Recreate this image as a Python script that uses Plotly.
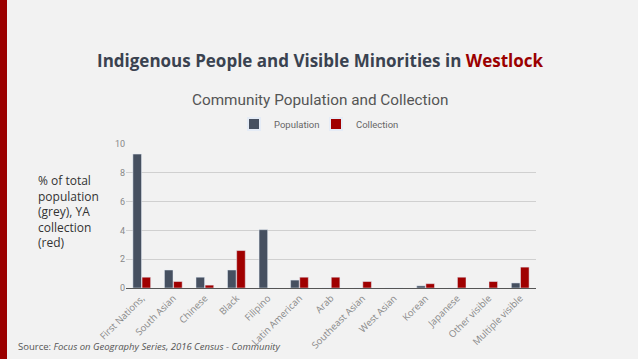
import plotly.graph_objects as go

categories = ["First Nations,", "South Asian", "Chinese", "Black", "Filipino",
              "Latin American", "Arab", "Southeast Asian", "West Asian", "Korean",
              "Japanese", "Other visible", "Multiple visible"]
population = [9.3, 1.25, 0.75, 1.25, 4.05, 0.55, 0, 0, 0, 0.15, 0, 0, 0.35]
collection = [0.75, 0.45, 0.2, 2.6, 0, 0.75, 0.75, 0.45, 0, 0.3, 0.75, 0.45, 1.45]
y_ticks = [0, 2, 4, 6, 8, 10]

GREY = "#465060"
RED = "#a00000"
BG = "#f2f2f2"

fig = go.Figure()
fig.add_trace(go.Bar(x=categories, y=population, name="Population", marker_color=GREY, legend="legend"))
fig.add_trace(go.Bar(x=categories, y=collection, name="Collection", marker_color=RED, legend="legend2"))

L, R, T, B = 126, 102, 144, 71
W, H = 638, 359
pw = W - L - R
ph = H - T - B

def px_x(x):
    return (x - L) / pw

def px_y(y):
    return (H - B - y) / ph

leg_common = dict(orientation="h", xanchor="left", y=px_y(124), yanchor="middle",
                  font=dict(family="Roboto", size=9.5, color="#666"),
                  itemwidth=30, itemsizing="constant", bgcolor="rgba(0,0,0,0)")

fig.update_layout(
    width=W, height=H,
    margin=dict(l=L, r=R, t=T, b=B, autoexpand=False),
    paper_bgcolor=BG, plot_bgcolor=BG,
    barmode="group", bargap=0.42, bargroupgap=0.06,
    font=dict(family="Roboto", color="#777"),
    showlegend=True,
    legend=dict(x=px_x(234), **leg_common),
    legend2=dict(x=px_x(316), **leg_common),
    xaxis=dict(tickangle=-45, tickfont=dict(family="Open Sans", size=9.5, color="#888"),
               showline=True, linecolor="#555", linewidth=1, ticks="", showgrid=False,
               range=[-0.5, len(categories) - 0.5]),
    yaxis=dict(range=[0, 10], tickvals=y_ticks, tickfont=dict(family="Roboto", size=9, color="#888"),
               showgrid=True, gridcolor="#d0d0d0", gridwidth=1, zeroline=False,
               showline=False, ticks=""),
    shapes=[dict(type="rect", xref="paper", yref="paper", x0=px_x(0), x1=px_x(7),
                 y0=px_y(H), y1=px_y(0), fillcolor="#9b0000", line_width=0, layer="above")],
    annotations=[
        dict(text="<b>Indigenous People and Visible Minorities in <span style='color:#9b0000'>Westlock</span></b>",
             xref="paper", yref="paper", x=px_x(320), y=px_y(60), xanchor="center", yanchor="middle",
             showarrow=False, font=dict(family="Open Sans", size=17, color="#3a4250")),
        dict(text="Community Population and Collection",
             xref="paper", yref="paper", x=px_x(320), y=px_y(100), xanchor="center", yanchor="middle",
             showarrow=False, font=dict(family="Roboto", size=15.3, color="#555")),
        dict(text="% of total<br>population<br>(grey), YA<br>collection<br>(red)",
             xref="paper", yref="paper", x=px_x(36), y=px_y(211), xanchor="left", yanchor="middle",
             align="left", showarrow=False, font=dict(family="Open Sans", size=12, color="#333")),
        dict(text="Source: <i>Focus on Geography Series, 2016 Census - Community</i>",
             xref="paper", yref="paper", x=px_x(16), y=px_y(346), xanchor="left", yanchor="middle",
             align="left", showarrow=False, font=dict(family="Open Sans", size=9.5, color="#555")),
    ],
)

fig.write_html("out.html", config={"displayModeBar": False},
               post_script="document.body.style.margin='0';document.body.style.overflow='hidden';")
